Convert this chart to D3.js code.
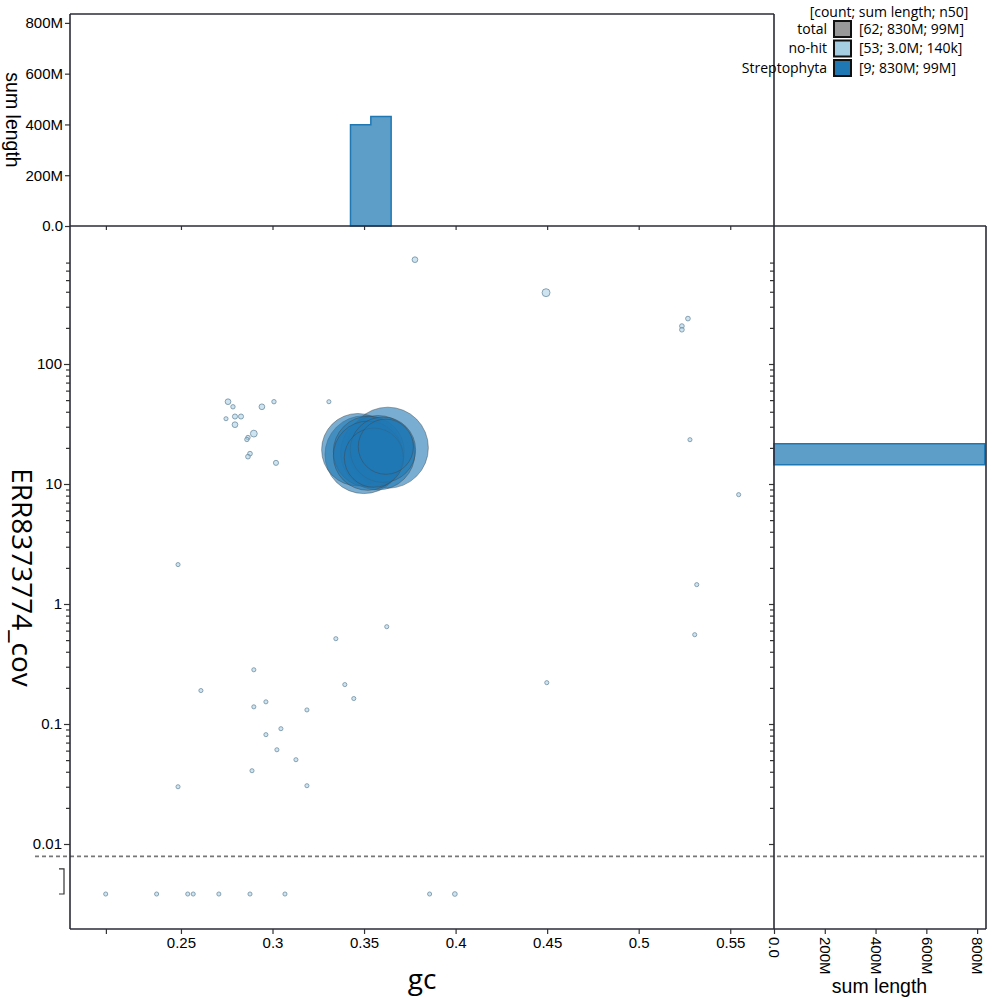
<!DOCTYPE html>
<html>
<head>
<meta charset="utf-8">
<script src="https://cdn.jsdelivr.net/npm/d3@7"></script>
<style>
body { margin: 0; background: #fff; }
svg text { font-family: "Liberation Sans", Arial, sans-serif; }
.axis text { font-size: 15px; fill: #000; }
.axis line { stroke: #333; stroke-width: 1.2px; }
.frame { stroke: #2b2b38; stroke-width: 1.6px; fill: none; }
.big { font-family: "Open Sans", "Noto Sans", sans-serif !important; }
</style>
</head>
<body>
<svg id="chart" width="1000" height="1000"></svg>
<script>
// no-hit contigs: gc, coverage (0 = no coverage), length
var noHitGc = [0.3778, 0.4494, 0.5269, 0.5236, 0.5236, 0.3308, 0.2757, 0.2784, 0.2942, 0.3008,
               0.2746, 0.2795, 0.2828, 0.2795, 0.2898, 0.2866, 0.2860, 0.2877, 0.2866, 0.3019,
               0.5280, 0.5546, 0.2484, 0.5317, 0.5306, 0.3624, 0.3346, 0.2898, 0.2609, 0.3395,
               0.3444, 0.4498, 0.2964, 0.2898, 0.3188, 0.3046, 0.2964, 0.3024, 0.3128, 0.2888,
               0.2484, 0.3188,
               0.2089, 0.2367, 0.2537, 0.2567, 0.2707, 0.2877, 0.3068, 0.3858, 0.3996];
var noHitCov = [740, 393, 239, 207, 193, 48.5, 48.5, 44, 44, 48.5,
                35, 36.5, 36.5, 31.2, 26.3, 24.4, 23.5, 17.9, 16.9, 15.0,
                23.4, 8.15, 2.13, 1.45, 0.555, 0.647, 0.514, 0.283, 0.19, 0.213,
                0.163, 0.221, 0.153, 0.139, 0.131, 0.0914, 0.0815, 0.061, 0.0504, 0.0408,
                0.030, 0.0306,
                0, 0, 0, 0, 0, 0, 0, 0, 0];
var noHitLen = [150e3, 500e3, 60e3, 60e3, 60e3, 25e3, 150e3, 40e3, 150e3, 40e3,
                25e3, 90e3, 90e3, 150e3, 300e3, 40e3, 40e3, 60e3, 60e3, 90e3,
                25e3, 25e3, 25e3, 25e3, 25e3, 25e3, 25e3, 25e3, 25e3, 25e3,
                25e3, 25e3, 25e3, 25e3, 25e3, 25e3, 25e3, 25e3, 25e3, 25e3,
                25e3, 25e3,
                25e3, 25e3, 25e3, 25e3, 25e3, 25e3, 25e3, 25e3, 60e3];

// Streptophyta contigs
var strepGc  = [0.3499, 0.3466, 0.3526, 0.3521, 0.3630, 0.3575, 0.3603, 0.3554, 0.3619];
var strepCov = [17.55, 19.31, 18.59, 17.21, 20.07, 18.23, 19.31, 16.57, 20.46];
var strepLen = [115e6, 99e6, 95e6, 90e6, 125e6, 105e6, 80e6, 65e6, 56e6];

// histogram bins
var gcBinEdges = [0.3426, 0.3537, 0.3648];
var covBinEdges = [14.5, 21.7];

// axes
var gcTicks = [0.209, 0.25, 0.3, 0.35, 0.4, 0.45, 0.5, 0.55];
var lenTicks = [0, 200e6, 400e6, 600e6, 800e6];
var zeroCovValue = 0.00383;      // where no-coverage contigs sit
var covThreshold = 0.0079;       // dashed line
var bracketTop = 0.0062;

// legend
var legendTitle = "[count; sum length; n50]";
var legendNames = ["total", "no-hit", "Streptophyta"];
var legendColors = ["#999999", "#a6cee3", "#1f78b4"];
var legendStats = ["[62; 830M; 99M]", "[53; 3.0M; 140k]", "[9; 830M; 99M]"];

var L = 70, R = 774, T = 226, B = 929, histTop = 14, histRight = 986;

var svg = d3.select("#chart");

var x = d3.scaleLinear().domain([0.1894, 0.5739]).range([L, R]);
var y = d3.scaleLog().domain([0.01, 1000]).range([844, 244]);
var r = d3.scaleSqrt().domain([0, 125e6]).range([1.5, 40.5]);
var topY = d3.scaleLinear().domain([0, 835e6]).range([T, histTop]);
var rightX = d3.scaleLinear().domain([0, 835e6]).range([R, histRight]);

function yPos(c) { return c > 0 ? y(c) : y(zeroCovValue); }

// histograms from streptophyta lengths
var strep = strepGc.map(function(g, i) { return {gc: g, cov: strepCov[i], len: strepLen[i]}; });
var topBins = [];
for (var i = 0; i < gcBinEdges.length - 1; i++) {
    var s = d3.sum(strep.filter(function(d) { return d.gc >= gcBinEdges[i] && d.gc < gcBinEdges[i + 1]; }), function(d) { return d.len; });
    topBins.push({x: gcBinEdges[i], v: s});
}
topBins.push({x: gcBinEdges[gcBinEdges.length - 1], v: topBins[topBins.length - 1].v});

var rightBins = [];
for (var j = 0; j < covBinEdges.length - 1; j++) {
    var t = d3.sum(strep.filter(function(d) { return d.cov >= covBinEdges[j] && d.cov < covBinEdges[j + 1]; }), function(d) { return d.len; });
    rightBins.push({c: covBinEdges[j], v: t});
}
rightBins.push({c: covBinEdges[covBinEdges.length - 1], v: rightBins[rightBins.length - 1].v});

svg.append("path")
    .datum(topBins)
    .attr("d", d3.area().curve(d3.curveStepAfter)
        .x(function(d) { return x(d.x); })
        .y0(T)
        .y1(function(d) { return topY(d.v); }))
    .attr("fill", "#1f78b4").attr("fill-opacity", 0.72)
    .attr("stroke", "#1f78b4").attr("stroke-width", 1.5);

svg.append("path")
    .datum(rightBins)
    .attr("d", d3.area().curve(d3.curveStepAfter)
        .y(function(d) { return y(d.c); })
        .x0(R)
        .x1(function(d) { return rightX(d.v); }))
    .attr("fill", "#1f78b4").attr("fill-opacity", 0.72)
    .attr("stroke", "#1f78b4").attr("stroke-width", 1.5);

// dashed threshold line
svg.append("line")
    .attr("x1", 35).attr("x2", histRight)
    .attr("y1", y(covThreshold)).attr("y2", y(covThreshold))
    .attr("stroke", "#777").attr("stroke-width", 1.8)
    .attr("stroke-dasharray", "4,3");

// bracket for no-coverage contigs
svg.append("path")
    .attr("d", "M59," + y(bracketTop) + "H64V" + y(zeroCovValue) + "H59")
    .attr("fill", "none").attr("stroke", "#333").attr("stroke-width", 1.2);

// points
var noHit = noHitGc.map(function(g, i) { return {gc: g, cov: noHitCov[i], len: noHitLen[i]}; });

svg.append("g").selectAll("circle")
    .data(strep.slice().sort(function(a, b) { return b.len - a.len; }))
    .enter().append("circle")
    .attr("cx", function(d) { return x(d.gc); })
    .attr("cy", function(d) { return yPos(d.cov); })
    .attr("r", function(d) { return r(d.len); })
    .attr("fill", "#1f78b4").attr("fill-opacity", 0.6)
    .attr("stroke", "#444").attr("stroke-opacity", 0.45).attr("stroke-width", 1);

svg.append("g").selectAll("circle")
    .data(noHit)
    .enter().append("circle")
    .attr("cx", function(d) { return x(d.gc); })
    .attr("cy", function(d) { return yPos(d.cov); })
    .attr("r", function(d) { return r(d.len); })
    .attr("fill", "#a6cee3").attr("fill-opacity", 0.55)
    .attr("stroke", "#6f8ea3").attr("stroke-opacity", 0.8).attr("stroke-width", 1);

// axes
var covTicks = y.ticks().filter(function(v) { return v <= d3.max(noHitCov); });
function isMajor(v) { return Math.abs(Math.log10(v) - Math.round(Math.log10(v))) < 1e-6; }

var gx = svg.append("g").attr("class", "axis").attr("transform", "translate(0," + B + ")")
    .call(d3.axisBottom(x).tickValues(gcTicks).tickSize(5).tickSizeOuter(0).tickPadding(3)
        .tickFormat(function(d) { return d === 0.209 ? "" : d3.format("~g")(d); }));
gx.select(".domain").remove();

var gxTop = svg.append("g").attr("class", "axis").attr("transform", "translate(0," + T + ")")
    .call(d3.axisBottom(x).tickValues(gcTicks).tickSize(4).tickSizeOuter(0).tickFormat(""));
gxTop.select(".domain").remove();

var gy = svg.append("g").attr("class", "axis").attr("transform", "translate(" + L + ",0)")
    .call(d3.axisLeft(y).tickValues(covTicks).tickSize(6).tickSizeOuter(0).tickPadding(2)
        .tickFormat(function(d) { return isMajor(d) ? d3.format("~g")(d) : ""; }));
gy.select(".domain").remove();
gy.selectAll(".tick line").attr("x2", function(d) { return isMajor(d) ? -6 : -4; });

var gyRight = svg.append("g").attr("class", "axis").attr("transform", "translate(" + R + ",0)")
    .call(d3.axisLeft(y).tickValues(covTicks).tickSize(4).tickSizeOuter(0).tickFormat(""));
gyRight.select(".domain").remove();
gyRight.selectAll(".tick line").attr("x2", function(d) { return isMajor(d) ? -5 : -4; });

var gTopLen = svg.append("g").attr("class", "axis").attr("transform", "translate(" + L + ",0)")
    .call(d3.axisLeft(topY).tickValues(lenTicks).tickSize(5).tickSizeOuter(0).tickPadding(2)
        .tickFormat(d3.format(".2s")));
gTopLen.select(".domain").remove();

var gRightLen = svg.append("g").attr("class", "axis").attr("transform", "translate(0," + B + ")")
    .call(d3.axisBottom(rightX).tickValues(lenTicks).tickSize(5).tickSizeOuter(0)
        .tickFormat(d3.format(".2s")));
gRightLen.select(".domain").remove();
gRightLen.selectAll(".tick text")
    .attr("transform", "rotate(90)")
    .attr("x", 8).attr("y", 0).attr("dy", "0.35em")
    .attr("text-anchor", "start");

// frame
var frame = svg.append("g");
frame.append("line").attr("class", "frame").attr("x1", L).attr("x2", L).attr("y1", histTop).attr("y2", B);
frame.append("line").attr("class", "frame").attr("x1", L).attr("x2", R).attr("y1", histTop).attr("y2", histTop);
frame.append("line").attr("class", "frame").attr("x1", R).attr("x2", R).attr("y1", histTop).attr("y2", B);
frame.append("line").attr("class", "frame").attr("x1", L).attr("x2", histRight).attr("y1", T).attr("y2", T);
frame.append("line").attr("class", "frame").attr("x1", histRight).attr("x2", histRight).attr("y1", T).attr("y2", B);
frame.append("line").attr("class", "frame").attr("x1", L).attr("x2", histRight).attr("y1", B).attr("y2", B);

// axis titles
svg.append("text").attr("class", "big")
    .attr("x", (L + R) / 2).attr("y", 989)
    .attr("text-anchor", "middle").style("font-size", "28px").text("gc");

svg.append("text").attr("class", "big")
    .attr("transform", "translate(12," + ((T + B) / 2) + ") rotate(90)")
    .attr("text-anchor", "middle").style("font-size", "28px").text("ERR8373774_cov");

svg.append("text")
    .attr("transform", "translate(6," + ((histTop + T) / 2) + ") rotate(90)")
    .attr("text-anchor", "middle").style("font-size", "19.5px").text("sum length");

svg.append("text")
    .attr("x", (R + histRight) / 2 - 0.5).attr("y", 993)
    .attr("text-anchor", "middle").style("font-size", "19.5px").text("sum length");

// legend
var lg = svg.append("g").attr("class", "legend");
lg.append("text").attr("class", "big")
    .attr("x", 889).attr("y", 12).attr("dy", "0.35em")
    .attr("text-anchor", "middle").style("font-size", "14px").text(legendTitle);

var rows = lg.selectAll("g.row").data(legendNames).enter().append("g")
    .attr("class", "row")
    .attr("transform", function(d, i) { return "translate(0," + (29 + i * 19.5) + ")"; });
rows.append("text").attr("class", "big")
    .attr("x", 827).attr("dy", "0.35em").attr("text-anchor", "end")
    .style("font-size", "14px").text(function(d) { return d; });
rows.append("rect")
    .attr("x", 834).attr("y", -8).attr("width", 17).attr("height", 16)
    .attr("fill", function(d, i) { return legendColors[i]; })
    .attr("stroke", "#111").attr("stroke-width", 2);
rows.append("text").attr("class", "big")
    .attr("x", 859).attr("dy", "0.35em")
    .style("font-size", "14px").text(function(d, i) { return legendStats[i]; });
</script>
</body>
</html>
